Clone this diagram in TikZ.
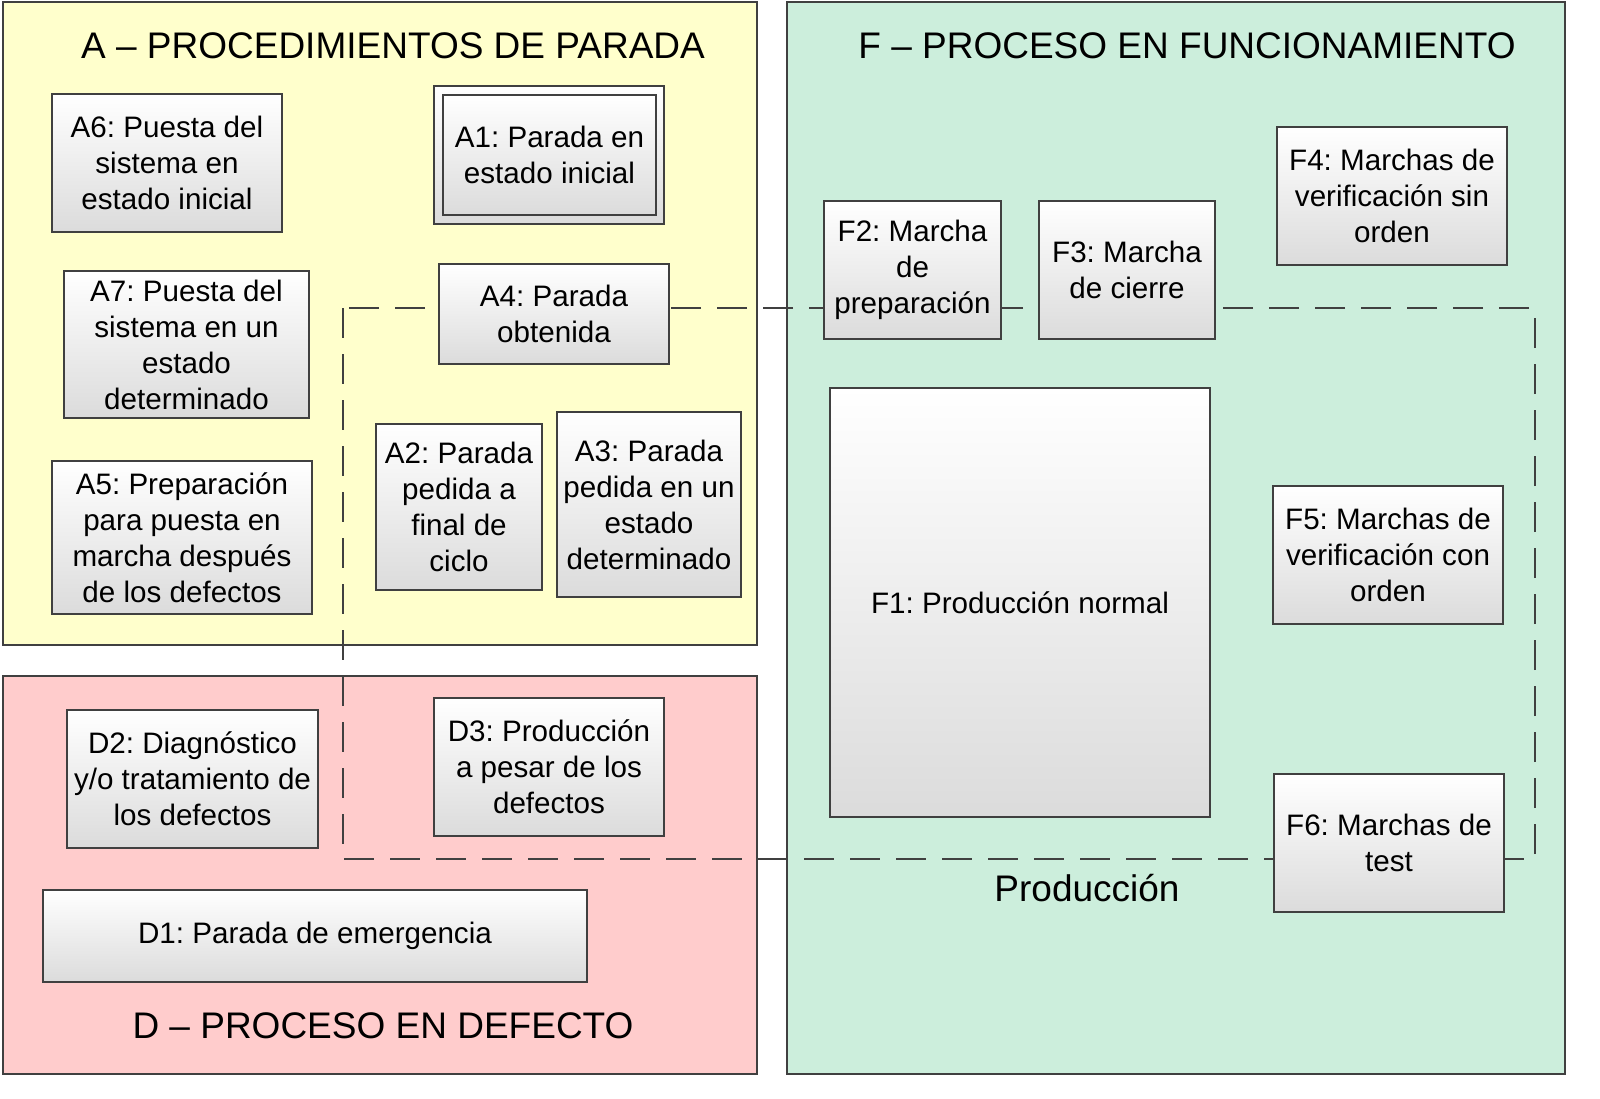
\documentclass[tikz,border=0pt]{standalone}
\usepackage{fontspec}
\setmainfont{Liberation Sans}
\begin{document}
\frenchspacing
\begin{tikzpicture}[x=0.5pt,y=-0.5pt,
  region/.style={draw=black!75,line width=1.2pt},
  boxsty/.style={draw=black!75,line width=1.2pt,top color=white,bottom color=black!14},
  lbl/.style={align=center,font=\fontsize{14.8}{18}\selectfont},
  ttl/.style={font=\fontsize{18.5}{22}\selectfont}]
\newcommand\bx[6]{\draw[boxsty] (#2,#3) rectangle (#4,#5); \node[lbl] (#1) at ({(#2+#4)/2},{(#3+#5)/2}) {#6};}
\useasboundingbox (0,0) rectangle (1600,1098);
\fill[white] (0,0) rectangle (1600,1098);
\draw[region,fill={rgb,255:red,255;green,255;blue,204}] (3,2) rectangle (757,645);
\draw[region,fill={rgb,255:red,255;green,204;blue,204}] (3,676) rectangle (757,1074);
\draw[region,fill={rgb,255:red,204;green,238;blue,220}] (787,2) rectangle (1565,1074);
\node[ttl] (ta) at (393,46) {A – PROCEDIMIENTOS DE PARADA};
\node[ttl] (tf) at (1187,46) {F – PROCESO EN FUNCIONAMIENTO};
\node[ttl] (td) at (383,1026) {D – PROCESO EN DEFECTO};
\draw[black!75,line width=1.2pt,dash pattern=on 15pt off 8pt] (343,308) rectangle (1535,859);
\node[ttl] (prod) at (1087,888) {Producción};
\bx{A6}{52}{94}{282}{232}{A6: Puesta del\\sistema en\\estado inicial}
\draw[boxsty] (434,86) rectangle (664,224);
\bx{A1}{443}{95}{656}{215}{A1: Parada en\\estado inicial}
\bx{A7}{64}{271}{309}{418}{A7: Puesta del\\sistema en un\\estado\\determinado}
\bx{A4}{439}{264}{669}{364}{A4: Parada\\obtenida}
\bx{A5}{52}{461}{312}{614}{A5: Preparación\\para puesta en\\marcha después\\de los defectos}
\bx{A2}{376}{424}{542}{590}{A2: Parada\\pedida a\\final de\\ciclo}
\bx{A3}{557}{412}{741}{597}{A3: Parada\\pedida en un\\estado\\determinado}
\bx{D2}{67}{710}{318}{848}{D2: Diagnóstico\\y/o tratamiento de\\los defectos}
\bx{D3}{434}{698}{664}{836}{D3: Producción\\a pesar de los\\defectos}
\bx{D1}{43}{890}{587}{982}{D1: Parada de emergencia}
\bx{F2}{824}{201}{1001}{339}{F2: Marcha\\de\\preparación}
\bx{F3}{1039}{201}{1215}{339}{F3: Marcha\\de cierre}
\bx{F4}{1277}{127}{1507}{265}{F4: Marchas de\\verificación sin\\orden}
\bx{F1}{830}{388}{1210}{817}{F1: Producción normal}
\bx{F5}{1273}{486}{1503}{624}{F5: Marchas de\\verificación con\\orden}
\bx{F6}{1274}{774}{1504}{912}{F6: Marchas de\\test}
\end{tikzpicture}
\end{document}
